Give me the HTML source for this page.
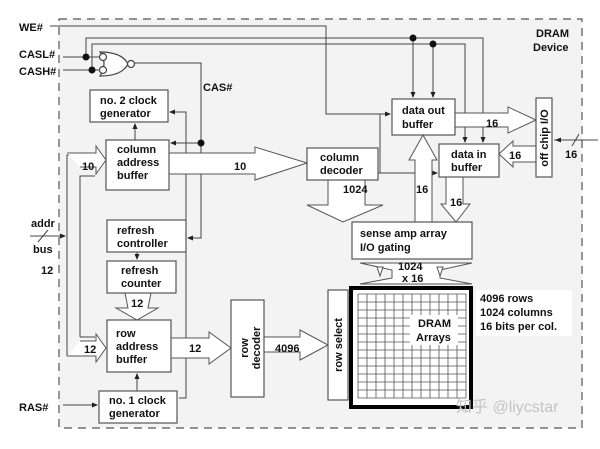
<!DOCTYPE html>
<html><head><meta charset="utf-8"><style>
html,body{margin:0;padding:0;background:#fff;}
svg{display:block;}
text{font-family:"Liberation Sans",Arial,sans-serif;font-weight:bold;font-size:11px;fill:#111;}
</style></head><body>
<svg width="600" height="449" viewBox="0 0 600 449" xmlns="http://www.w3.org/2000/svg">
<defs>
<marker id="a" markerWidth="6" markerHeight="6" refX="5" refY="3" orient="auto"><path d="M0,0.5 L6,3 L0,5.5z" fill="#222"/></marker>
</defs>
<rect x="59" y="19" width="523" height="409" fill="#f3f3f3" stroke="#555" stroke-width="1.2" stroke-dasharray="8,6"/>
<g stroke="#444" stroke-width="1" fill="none">
<polyline points="50,26 326,26 326,114 390,114" marker-end="url(#a)"/>
<polyline points="86,57 86,38 483,38 483,142" marker-end="url(#a)"/>
<polyline points="92,70 92,44 465,44 465,142" marker-end="url(#a)"/>
<line x1="413" y1="38" x2="413" y2="97" marker-end="url(#a)"/>
<line x1="433" y1="44" x2="433" y2="97" marker-end="url(#a)"/>
<line x1="63" y1="57" x2="100" y2="57"/><line x1="63" y1="70" x2="100" y2="70"/>
<polyline points="134,63 201,63 201,238 188,238" marker-end="url(#a)"/>
<line x1="201" y1="143" x2="171" y2="143" marker-end="url(#a)"/>
<polyline points="179,398 186,398 186,112 170,112" marker-end="url(#a)"/>
<line x1="135" y1="140" x2="135" y2="124" marker-end="url(#a)"/>
<line x1="30" y1="236" x2="65" y2="236" marker-end="url(#a)"/>
<line x1="38" y1="242" x2="48" y2="230"/>
<polyline points="67,356 67,155 95,155"/>
<polyline points="80,337 80,176 95,176"/>
<polyline points="67,356 95,356"/><polyline points="80,337 95,337"/>
<line x1="137" y1="252" x2="137" y2="259" marker-end="url(#a)"/>
<line x1="137" y1="391" x2="137" y2="374" marker-end="url(#a)"/>
<line x1="63" y1="405" x2="97" y2="405" marker-end="url(#a)"/>
<polyline points="380,114 380,173 437,173" marker-end="url(#a)"/>
<line x1="378" y1="173" x2="380" y2="173"/>
<line x1="554" y1="140" x2="598" y2="140"/>
<line x1="566" y1="140" x2="556" y2="140" marker-end="url(#a)"/>
<line x1="572" y1="146" x2="579" y2="134"/>
</g>
<g fill="#111"><circle cx="92" cy="70" r="3.5"/><circle cx="86" cy="57" r="3.5"/><circle cx="413" cy="38" r="3.5"/><circle cx="433" cy="44" r="3.5"/><circle cx="201" cy="143" r="3.5"/></g>
<g stroke="#444" stroke-width="1.2" fill="#fff">
<path d="M100,52 Q108,63 100,76 Q122,76 128,64 Q122,52 100,52z"/>
<circle cx="103" cy="57" r="3.5"/><circle cx="103" cy="70" r="3.5"/><circle cx="131" cy="64" r="3.5"/>
</g>
<g stroke="#555" stroke-width="1" fill="#fff">
<path d="M67,153 L96,153 L96,146 L106,160 L96,174 L96,167 L80,167"/>
<path d="M67,356 L96,356 L96,362 L106,348 L96,334 L96,341 L80,341"/>
<path d="M169,153 L255,153 L255,147 L307,163 L255,180 L255,174 L169,174z"/>
<path d="M125,293 L128,308 L116,308 L137,320 L158,308 L148,308 L151,293z"/>
<path d="M171,338 L209,338 L209,332 L231,348 L209,364 L209,358 L171,358z"/>
<path d="M264,337 L300,337 L300,330 L328,345 L300,360 L300,352 L264,352z"/>
<path d="M328,180 L328,205 L307,205 L343,222 L383,205 L365,205 L365,180"/>
<path d="M446,177 L446,204 L441,204 L456,222 L470,204 L463,204 L463,177"/>
<path d="M415,259 L415,160 L409,160 L423,135 L437,160 L432,160 L432,259"/>
<path d="M455,113 L508,113 L508,107 L536,120 L508,133 L508,127 L455,127z"/>
<path d="M536,146 L513,146 L513,141 L499,154 L513,167 L513,162 L536,162z"/>
<path d="M360,263 L472,263 L440,270 L440,278 L472,284 L360,284 L392,278 L392,270z"/>
<path d="M377,267 L383,267 L380,276z"/><path d="M437,267 L443,267 L440,276z"/>
</g>
<g stroke="#555" stroke-width="1.2" fill="#fff">
<rect x="90" y="90" width="78" height="32"/>
<rect x="106" y="140" width="63" height="50"/>
<rect x="107" y="220" width="79" height="32"/>
<rect x="107" y="261" width="69" height="32"/>
<rect x="107" y="320" width="64" height="52"/>
<rect x="99" y="391" width="78" height="32"/>
<rect x="231" y="300" width="33" height="97"/>
<rect x="307" y="148" width="71" height="32"/>
<rect x="392" y="99" width="63" height="36"/>
<rect x="439" y="144" width="60" height="33"/>
<rect x="536" y="98" width="16" height="79"/>
<rect x="352" y="222" width="120" height="37"/>
<rect x="328" y="290" width="20" height="110"/>
</g>
<rect x="351" y="288" width="120" height="119" fill="#fff" stroke="#000" stroke-width="4"/>
<g stroke="#555" stroke-width="0.8">
<path d="M358,294 h108 M358,302 h108 M358,310 h108 M358,318 h108 M358,326 h108 M358,334 h108 M358,342 h108 M358,350 h108 M358,358 h108 M358,366 h108 M358,374 h108 M358,382 h108 M358,390 h108 M358,398 h108"/>
<path d="M358,294 v104 M367,294 v104 M376,294 v104 M385,294 v104 M394,294 v104 M403,294 v104 M412,294 v104 M421,294 v104 M430,294 v104 M439,294 v104 M448,294 v104 M457,294 v104 M466,294 v104"/>
</g>
<rect x="410" y="315" width="48" height="30" fill="#fff"/>
<rect x="476" y="290" width="96" height="46" fill="#fff"/>
<text x="19" y="31">WE#</text><text x="19" y="58">CASL#</text><text x="19" y="75">CASH#</text>
<text x="203" y="91">CAS#</text>
<text x="100" y="104">no. 2 clock</text><text x="100" y="117">generator</text>
<text x="117" y="153">column</text><text x="117" y="166">address</text><text x="117" y="179">buffer</text>
<text x="82" y="170">10</text><text x="234" y="170">10</text>
<text x="31" y="227">addr</text><text x="33" y="253">bus</text><text x="41" y="274">12</text>
<text x="117" y="234">refresh</text><text x="117" y="247">controller</text>
<text x="121" y="274">refresh</text><text x="121" y="287">counter</text>
<text x="131" y="307">12</text>
<text x="116" y="337">row</text><text x="116" y="350">address</text><text x="116" y="363">buffer</text>
<text x="84" y="353">12</text><text x="189" y="352">12</text><text x="275" y="352">4096</text>
<text x="109" y="404">no. 1 clock</text><text x="109" y="417">generator</text>
<text x="19" y="411">RAS#</text>
<text x="320" y="161">column</text><text x="320" y="174">decoder</text>
<text x="343" y="193">1024</text>
<text x="402" y="114">data out</text><text x="402" y="128">buffer</text>
<text x="451" y="158">data in</text><text x="451" y="171">buffer</text>
<text x="486" y="127">16</text><text x="509" y="159">16</text><text x="416" y="193">16</text><text x="450" y="206">16</text>
<text x="565" y="158">16</text>
<text x="536" y="37">DRAM</text><text x="533" y="51">Device</text>
<text x="360" y="237">sense amp array</text><text x="360" y="251">I/O gating</text>
<text x="398" y="270">1024</text><text x="402" y="282">x 16</text>
<text x="418" y="327">DRAM</text><text x="416" y="341">Arrays</text>
<text x="480" y="302">4096 rows</text><text x="480" y="316">1024 columns</text><text x="480" y="330">16 bits per col.</text>
<text transform="translate(248,348) rotate(-90)" text-anchor="middle">row</text>
<text transform="translate(260,348) rotate(-90)" text-anchor="middle">decoder</text>
<text transform="translate(342,345) rotate(-90)" text-anchor="middle">row select</text>
<text transform="translate(548,138) rotate(-90)" text-anchor="middle">off chip I/O</text>
<text x="456" y="412" style="font-weight:normal;font-size:16px;fill:#c4c4c4;font-family:'Liberation Sans','Noto Sans CJK SC',sans-serif">知乎 @liycstar</text>
</svg>
</body></html>
